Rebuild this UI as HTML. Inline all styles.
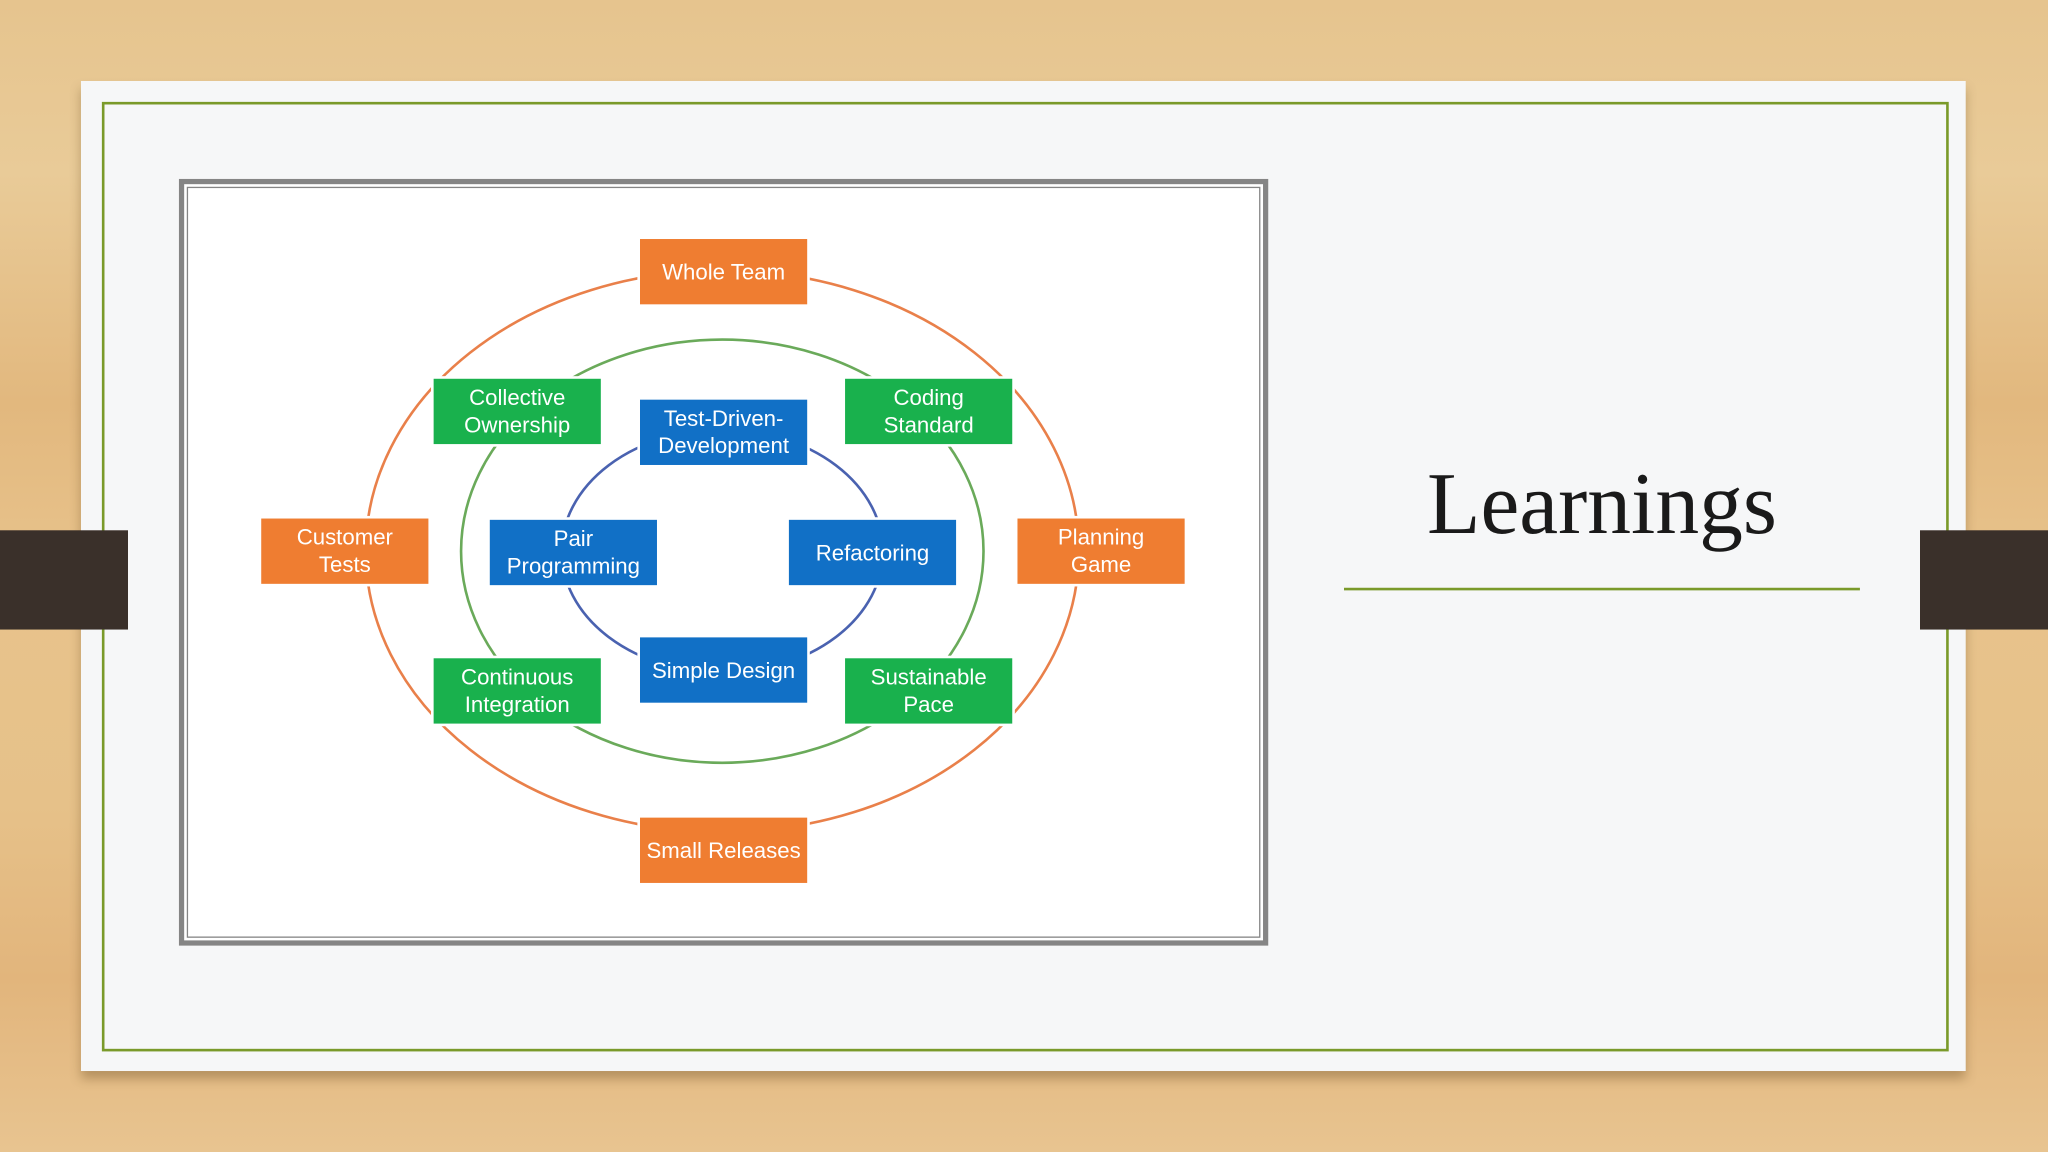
<!DOCTYPE html>
<html><head><style>
html,body{margin:0;padding:0;width:2048px;height:1152px;overflow:hidden}
#w{position:absolute;left:0;top:0;width:1568px;height:882px;transform:scale(1.306122);transform-origin:0 0;
background:linear-gradient(180deg,#e6c48e 0%,#e9cb98 15%,#e2b87e 35%,#e8c38c 50%,#e6c189 70%,#e2b57c 85%,#e8c490 100%)}
#slide{position:absolute;left:62px;top:62px;width:1443px;height:758px;background:#f6f7f8;box-shadow:0 6px 8px rgba(90,60,20,.35)}
#gb{position:absolute;left:78px;top:78px;width:1410px;height:723px;border:2px solid #7a9a2a}
.tab{position:absolute;top:406px;height:76px;background:#3a302a;width:98px}
#frame{position:absolute;left:137px;top:137px;width:826px;height:579px;border:4px solid #858585;background:#fff}
#frame:after{content:"";position:absolute;left:2px;top:2px;right:2px;bottom:2px;border:1px solid #858585}
.b{position:absolute;width:128px;height:50px;color:#fff;font-family:"Liberation Sans",sans-serif;font-size:17px;line-height:21px;display:flex;align-items:center;justify-content:center;text-align:center;box-shadow:0 0 0 2px #fff}
.o{background:#ef7d31}.g{background:#19b14d}.u{background:#1170c6}
#t{position:absolute;left:1029px;width:395px;top:348px;text-align:center;font-family:"Liberation Serif",serif;font-size:67px;color:#1a1a1a}
#ln{position:absolute;left:1029px;top:450px;width:395px;height:2px;background:#7a9a2a}
</style></head><body><div id="w">
<div id="slide"></div>
<div id="gb"></div>
<div class="tab" style="left:0"></div>
<div class="tab" style="left:1470px"></div>
<div id="frame"></div>
<svg style="position:absolute;left:0;top:0" width="1568" height="882">
<ellipse cx="553" cy="422" rx="273" ry="215" fill="none" stroke="#e9804a" stroke-width="2"/>
<ellipse cx="553" cy="422" rx="200" ry="162" fill="none" stroke="#6aaa5a" stroke-width="2"/>
<ellipse cx="553" cy="422" rx="123" ry="93" fill="none" stroke="#4a62b0" stroke-width="2"/>
</svg>
<div class="b o" style="left:490px;top:183px">Whole Team</div>
<div class="b g" style="left:332px;top:290px">Collective<br>Ownership</div>
<div class="b u" style="left:490px;top:306px">Test-Driven-<br>Development</div>
<div class="b g" style="left:647px;top:290px">Coding<br>Standard</div>
<div class="b o" style="left:200px;top:397px">Customer<br>Tests</div>
<div class="b u" style="left:375px;top:398px">Pair<br>Programming</div>
<div class="b u" style="left:604px;top:398px">Refactoring</div>
<div class="b o" style="left:779px;top:397px">Planning<br>Game</div>
<div class="b g" style="left:332px;top:504px">Continuous<br>Integration</div>
<div class="b u" style="left:490px;top:488px">Simple Design</div>
<div class="b g" style="left:647px;top:504px">Sustainable<br>Pace</div>
<div class="b o" style="left:490px;top:626px">Small Releases</div>
<div id="t">Learnings</div>
<div id="ln"></div>
</div></body></html>
